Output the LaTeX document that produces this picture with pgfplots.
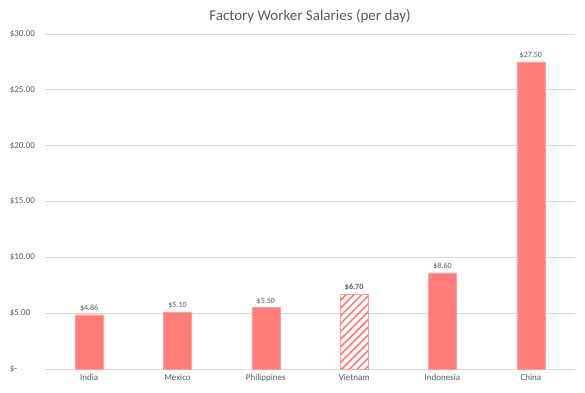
\documentclass[border=0pt]{standalone}
\usepackage{pgfplots}
\pgfplotsset{compat=1.18}
\usepackage{fontspec}
\setmainfont{Carlito}
\usetikzlibrary{patterns.meta}
\definecolor{bar}{HTML}{FF7C78}
\definecolor{txt}{HTML}{595959}
\definecolor{grid}{HTML}{D9D9D9}
\begin{document}
\begin{tikzpicture}
\path (0,0) rectangle (585pt,-392pt);
\begin{axis}[
  at={(45pt,-369pt)}, anchor=south west,
  scale only axis, width=530pt, height=335pt,
  xmin=-0.5, xmax=5.5, ymin=0, ymax=30,
  xtick={0,1,2,3,4,5},
  xticklabels={India,Mexico,Philippines,Vietnam,Indonesia,China},
  ytick={0,5,10,15,20,25,30},
  yticklabels={\$-,\$5.00,\$10.00,\$15.00,\$20.00,\$25.00,\$30.00},
  yticklabel style={text width=26pt, align=left, font=\fontsize{9}{10}\selectfont, text=txt, inner sep=0pt, xshift=-9pt},
  xticklabel style={font=\fontsize{9}{10}\selectfont, text=txt, yshift=-2pt},
  major tick length=0pt,
  axis line style={draw=none},
  ymajorgrids, grid style={draw=grid, line width=0.8pt},
  title={Factory Worker Salaries (per day)},
  title style={font=\fontsize{15}{17}\selectfont, text=txt, at={(0.5,1)}, yshift=2pt},
  ybar, bar width=28pt, bar shift=0pt,
  nodes near coords={\$\pgfmathprintnumber[fixed,fixed zerofill,precision=2,assume math mode=true]{\pgfplotspointmeta}},
  every node near coord/.append style={font=\fontsize{8}{9}\selectfont, text=txt},
  clip=false,
]
\draw[grid, line width=0.8pt] (axis cs:-0.5,0) -- (axis cs:5.5,0);
\addplot[fill=bar, draw=bar!75!white] coordinates {(0,4.86) (1,5.10) (2,5.50) (4,8.60) (5,27.50)};
\addplot[pattern={Lines[angle=45,distance=5.5pt,line width=1.7pt]}, pattern color=bar, draw=bar!75!white,
  every node near coord/.append style={font=\fontsize{8}{9}\selectfont\bfseries}] coordinates {(3,6.70)};
\end{axis}
\end{tikzpicture}
\end{document}
